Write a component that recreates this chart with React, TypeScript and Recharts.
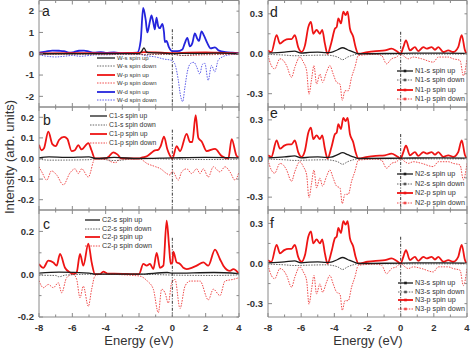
import React from 'react';
import { LineChart, Line, XAxis, YAxis, ReferenceLine } from 'recharts';

type Pt = [number, number];

const W = 474;
const H = 351;
const AX = '#8a8a8a';
const FONT = 'Arial, "Liberation Sans", Helvetica, sans-serif';

const RED = '#ee1414';
const RED_DOT = '#f04a4a';
const BLUE = '#2424dc';
const BLUE_DOT = '#5c5ce8';
const BLACK = '#1c1c1c';
const GRAY_DOT = '#555555';

// energy axis (eV)
const energyTicks = [-8, -7, -6, -5, -4, -3, -2, -1, 0, 1, 2, 3, 4];

// panel a: W
const wsUp: Pt[] = [[-8, 0], [-3, 0.01], [-2, 0.01], [-1.85, 0.1], [-1.7, 0.28], [-1.55, 0.08], [-1.3, 0.05], [-0.5, 0.03], [0, 0.01], [1, 0.02], [2, 0.02], [3, 0.03], [4, 0]];
const wsDown: Pt[] = [[-8, 0], [-2, -0.01], [-1.7, -0.05], [-1, -0.02], [0, -0.02], [0.6, -0.08], [1.5, -0.03], [4, 0]];
const wpUp: Pt[] = [[-8, 0.02], [-6, 0.03], [-4, 0.02], [-2, 0.04], [-1.7, 0.08], [-1, 0.06], [0, 0.03], [1, 0.05], [2, 0.06], [3, 0.04], [4, 0.02]];
const wpDown: Pt[] = [[-8, -0.02], [-4, -0.02], [-2, -0.03], [0, -0.03], [0.6, -0.08], [2, -0.05], [4, -0.02]];
const wdUp: Pt[] = [
  [-8, 0.05], [-7.6, 0.1], [-7.2, 0.15], [-6.8, 0.14], [-6.5, 0.12], [-6.2, 0.05], [-5.9, 0.08], [-5.6, 0.14],
  [-5.3, 0.15], [-5, 0.1], [-4.7, 0.05], [-4.3, 0.08], [-4, 0.04], [-3.5, 0.06], [-3, 0.03], [-2.5, 0.04],
  [-2.1, 0.05], [-1.9, 0.6], [-1.75, 2.15], [-1.6, 1.6], [-1.5, 1.0], [-1.35, 1.5], [-1.25, 1.8], [-1.15, 1.5],
  [-1.05, 1.15], [-0.95, 1.7], [-0.85, 1.3], [-0.75, 1.2], [-0.6, 1.4], [-0.5, 1.0], [-0.45, 0.55], [-0.35, 0.6],
  [-0.2, 0.3], [0, 0.12], [0.3, 0.12], [0.6, 0.2], [0.75, 0.5], [0.9, 0.75], [1.05, 0.35], [1.2, 0.5],
  [1.35, 0.95], [1.5, 0.7], [1.6, 0.6], [1.75, 1.05], [1.9, 0.85], [2.1, 0.5], [2.3, 0.25], [2.55, 0.3],
  [2.8, 0.15], [3.2, 0.08], [3.6, 0.05], [4, 0.03],
];
const wdDown: Pt[] = [
  [-8, -0.05], [-7.5, -0.12], [-7, -0.15], [-6.5, -0.12], [-6, -0.08], [-5.5, -0.12], [-5, -0.08], [-4.5, -0.05],
  [-4, -0.05], [-3, -0.02], [-2, -0.03], [-1.5, -0.1], [-1, -0.15], [-0.5, -0.25], [-0.1, -0.3], [0.05, -0.35],
  [0.2, -0.6], [0.35, -1.2], [0.5, -2.0], [0.62, -2.25], [0.75, -1.6], [0.9, -0.85], [1.1, -0.45], [1.3, -0.4],
  [1.45, -0.6], [1.65, -0.95], [1.8, -0.5], [1.95, -0.45], [2.15, -1.25], [2.35, -0.55], [2.55, -0.85],
  [2.75, -0.3], [3, -0.15], [3.4, -0.05], [4, -0.02],
];

// panel b: C1
const c1sUp: Pt[] = [[-8, 0.003], [-7.4, 0.008], [-6.4, 0.005], [-5, 0.008], [-4.6, 0], [-3.5, 0.005], [-2, 0], [0, 0.003], [2, 0.005], [4, 0.003]];
const c1sDown: Pt[] = [[-8, -0.003], [-7.4, -0.008], [-5, -0.006], [-4.6, 0], [-3.5, -0.01], [-2, 0], [0, -0.003], [2, -0.005], [4, -0.003]];
const c1pUp: Pt[] = [
  [-8, 0.067], [-7.85, 0.04], [-7.7, 0.05], [-7.44, 0.13], [-7.2, 0.07], [-7, 0.06], [-6.8, 0.09], [-6.5, 0.105],
  [-6.3, 0.095], [-6.04, 0.036], [-5.85, 0.04], [-5.64, 0.065], [-5.45, 0.044], [-5.04, 0.075], [-4.85, 0.04],
  [-4.64, 0], [-4, 0], [-3.8, 0.01], [-3.55, 0.03], [-3.3, 0.02], [-3.05, 0], [-2, 0], [-1.8, 0.005],
  [-1.5, 0.012], [-1.25, 0.028], [-1.05, 0.04], [-0.85, 0.042], [-0.7, 0.06], [-0.5, 0.106], [-0.3, 0.045],
  [-0.15, 0.015], [0, 0], [0.26, 0.06], [0.46, 0.035], [0.86, 0.12], [1.06, 0.08], [1.2, 0.08], [1.4, 0.21],
  [1.56, 0.1], [1.76, 0.083], [2.06, 0.036], [2.56, 0.047], [2.96, 0.012], [3.36, 0], [3.56, 0.094],
  [3.86, 0.012], [4, 0.005],
];
const c1pDown: Pt[] = [
  [-8, -0.04], [-7.8, -0.07], [-7.54, -0.105], [-7.25, -0.06], [-6.94, -0.08], [-6.54, -0.128], [-6.14, -0.07],
  [-5.84, -0.05], [-5.64, -0.073], [-5.44, -0.05], [-5.04, -0.09], [-4.64, 0], [-4, 0], [-3.7, -0.015],
  [-3.4, -0.02], [-3.1, 0], [-2, 0], [-1.5, -0.025], [-1, -0.04], [-0.7, -0.05], [-0.34, -0.073], [-0.14, -0.08],
  [0, -0.06], [0.36, -0.105], [0.56, -0.065], [0.86, -0.05], [1.16, -0.073], [1.46, -0.05], [1.66, -0.073],
  [1.86, -0.05], [2.16, -0.09], [2.46, -0.04], [2.86, -0.065], [3.16, -0.04], [3.46, -0.065], [3.76, -0.105],
  [4, -0.065],
];

// panel c: C2
const c2sUp: Pt[] = [[-8, 0.005], [-6.8, 0.01], [-5, 0.005], [-4.6, 0], [-2, 0], [-0.3, 0.008], [0, 0.005], [2.5, 0.008], [4, 0.003]];
const c2sDown: Pt[] = [[-8, -0.005], [-7, -0.006], [-6.8, -0.012], [-6.4, -0.004], [-4.6, 0], [-2, 0], [0, -0.004], [2.5, -0.006], [4, -0.003]];
const c2pUp: Pt[] = [
  [-8, 0.048], [-7.74, 0.03], [-7.44, 0.063], [-7.14, 0.055], [-6.94, 0.04], [-6.74, 0.095], [-6.44, 0.03],
  [-6.14, 0.008], [-5.94, 0], [-5.74, 0.008], [-5.54, 0.095], [-5.34, 0.04], [-5.04, 0.143], [-4.84, 0.055],
  [-4.64, 0], [-4.34, 0], [-4.14, 0.012], [-3.9, 0.003], [-3.5, 0.003], [-2, 0], [-1.74, 0.048], [-1.54, 0.04],
  [-1.34, 0.048], [-1.14, 0.024], [-0.94, 0.1], [-0.74, 0.03], [-0.54, 0.04], [-0.34, 0.25], [-0.2, 0.135],
  [-0.1, 0.048], [0, 0.055], [0.06, 0.105], [0.26, 0.055], [0.46, 0.048], [0.66, 0.03], [0.86, 0.024],
  [1.16, 0.03], [1.46, 0.04], [1.86, 0.055], [2.16, 0.04], [2.56, 0.115], [2.86, 0.07], [3.06, 0.04],
  [3.46, 0.016], [3.66, 0.024], [4, 0.002],
];
const c2pDown: Pt[] = [
  [-8, -0.03], [-7.74, -0.063], [-7.44, -0.048], [-7.14, -0.063], [-6.84, -0.04], [-6.64, -0.087],
  [-6.34, -0.016], [-5.94, 0], [-5.74, -0.024], [-5.54, -0.11], [-5.34, -0.056], [-5.04, -0.15], [-4.84, -0.07],
  [-4.64, -0.008], [-4.3, 0], [-2, -0.008], [-1.5, -0.032], [-1.14, -0.07], [-0.84, -0.18], [-0.64, -0.07],
  [-0.44, -0.087], [-0.24, -0.135], [-0.04, -0.04], [0.16, -0.024], [0.46, -0.16], [0.76, -0.056],
  [1.06, -0.032], [1.66, -0.032], [2.16, -0.12], [2.46, -0.07], [2.86, -0.1], [3.16, -0.032], [3.66, -0.024],
  [4, -0.016],
];

// panels d, e, f: N1, N2, N3 (curves are practically the same)
const nsUp: Pt[] = [[-8, 0.005], [-7, 0.012], [-6.4, 0.02], [-6, 0.005], [-5.5, 0.01], [-5, 0.012], [-4.5, 0.008], [-4.2, 0.01], [-3.8, 0.03], [-3.5, 0.045], [-3.2, 0.03], [-2.8, 0.01], [-2.5, 0], [0, 0.003], [2, 0.005], [4, 0.003]];
const nsDown: Pt[] = [[-8, -0.005], [-7, -0.01], [-6.4, -0.015], [-5.5, -0.012], [-4.5, -0.01], [-3.8, -0.025], [-3.5, -0.045], [-3.2, -0.025], [-2.8, -0.008], [-2.5, 0], [0, -0.003], [4, -0.003]];
const npUp: Pt[] = [
  [-8, 0.025], [-7.8, 0.012], [-7.48, 0.14], [-7.28, 0.076], [-7.02, 0.1], [-6.78, 0.11], [-6.58, 0.11],
  [-6.38, 0.14], [-6.18, 0.05], [-5.98, 0.013], [-5.77, 0.063], [-5.57, 0.2], [-5.41, 0.24], [-5.27, 0.15],
  [-5.07, 0.18], [-4.87, 0.15], [-4.73, 0.18], [-4.57, 0.076], [-4.41, 0], [-4.17, 0.089], [-3.96, 0.19],
  [-3.86, 0.2], [-3.76, 0.266], [-3.6, 0.228], [-3.46, 0.316], [-3.32, 0.29], [-3.2, 0.316], [-3.06, 0.19],
  [-2.86, 0.127], [-2.72, 0.05], [-2.55, 0], [-2, 0.013], [-1.5, 0.02], [-0.95, 0.025], [-0.55, 0.038],
  [-0.25, 0.02], [0, 0], [0.16, 0.05], [0.32, 0.1], [0.56, 0.025], [0.86, 0.05], [1.06, 0.02], [1.37, 0.05],
  [1.57, 0.038], [1.87, 0.05], [2.07, 0.03], [2.27, 0.05], [2.57, 0.013], [2.87, 0.025], [3.17, 0.013],
  [3.47, 0.05], [3.68, 0.14], [3.88, 0.025], [4, 0],
];
const npDown: Pt[] = [
  [-8, -0.013], [-7.8, -0.089], [-7.6, -0.114], [-7.28, -0.038], [-7.08, -0.05], [-6.88, -0.089],
  [-6.58, -0.177], [-6.38, -0.101], [-6.08, -0.025], [-5.87, -0.063], [-5.67, -0.127], [-5.53, -0.304],
  [-5.37, -0.19], [-5.23, -0.089], [-5.07, -0.228], [-4.87, -0.152], [-4.71, -0.215], [-4.47, -0.139],
  [-4.27, -0.089], [-4.07, -0.152], [-3.86, -0.215], [-3.66, -0.228], [-3.52, -0.35], [-3.36, -0.278],
  [-3.16, -0.278], [-2.96, -0.177], [-2.76, -0.101], [-2.55, -0.013], [-1.5, -0.005], [-1.15, -0.013],
  [-0.85, -0.076], [-0.55, -0.038], [-0.25, -0.025], [0, 0], [0.26, -0.025], [0.46, -0.038], [0.76, -0.025],
  [1.27, -0.038], [1.97, -0.063], [2.27, -0.025], [2.87, -0.025], [3.17, -0.038], [3.58, -0.05],
  [3.78, -0.165], [4, -0.038],
];

type Series = { name: string; data: Pt[]; color: string; width: number; dash?: string };

const sUp = (name: string, data: Pt[]): Series => ({ name, data, color: BLACK, width: 1.3 });
const sDown = (name: string, data: Pt[]): Series => ({ name, data, color: GRAY_DOT, width: 0.9, dash: '1.5 1.2' });
const pUp = (name: string, data: Pt[]): Series => ({ name, data, color: RED, width: 1.8 });
const pDown = (name: string, data: Pt[]): Series => ({ name, data, color: RED_DOT, width: 1, dash: '1.5 1.2' });

type PanelDef = {
  letter: string;
  box: { x: number; y: number; w: number; h: number };
  yDomain: [number, number];
  yTicks: number[];
  yLabels: number[];
  digits: number;
  fermiTop: number;
  showX: boolean;
  series: Series[];
  letterPos: [number, number];
  legend: { x: number; y: number; step: number; sample: number; font: number; marker?: boolean };
};

const LEFT = { x: 39, w: 200 };
const RIGHT = { x: 268, w: 199 };

const panels: PanelDef[] = [
  {
    letter: 'a', box: { ...LEFT, y: 0.5, h: 106.5 }, yDomain: [-2.5, 2.5], yTicks: [-2, -1, 0, 1, 2],
    yLabels: [-2, -1, 0, 1, 2], digits: 0, fermiTop: 1.15, showX: false, letterPos: [42, 16],
    series: [
      sUp('W-s spin up', wsUp), sDown('W-s spin down', wsDown), pUp('W-p spin up', wpUp), pDown('W-p spin down', wpDown),
      { name: 'W-d spin up', data: wdUp, color: BLUE, width: 1.8 },
      { name: 'W-d spin down', data: wdDown, color: BLUE_DOT, width: 1, dash: '1.5 1.2' },
    ],
    legend: { x: 97, y: 58, step: 8.4, sample: 18, font: 6 },
  },
  {
    letter: 'b', box: { ...LEFT, y: 107, h: 103 }, yDomain: [-0.25, 0.25], yTicks: [-0.2, -0.1, 0, 0.1, 0.2],
    yLabels: [-0.2, -0.1, 0, 0.1, 0.2], digits: 1, fermiTop: 0.14, showX: false, letterPos: [43, 125],
    series: [sUp('C1-s spin up', c1sUp), sDown('C1-s spin down', c1sDown), pUp('C1-p spin up', c1pUp), pDown('C1-p spin down', c1pDown)],
    legend: { x: 90, y: 116, step: 9, sample: 17, font: 6.8 },
  },
  {
    letter: 'c', box: { ...LEFT, y: 210, h: 107 }, yDomain: [-0.2, 0.3], yTicks: [-0.2, -0.1, 0, 0.1, 0.2],
    yLabels: [-0.2, 0, 0.2], digits: 1, fermiTop: 0.17, showX: true, letterPos: [43, 229],
    series: [sUp('C2-s spin up', c2sUp), sDown('C2-s spin down', c2sDown), pUp('C2-p spin up', c2pUp), pDown('C2-p spin down', c2pDown)],
    legend: { x: 85, y: 220, step: 8.5, sample: 15, font: 7.2 },
  },
  {
    letter: 'd', box: { ...RIGHT, y: 0.5, h: 106.5 }, yDomain: [-0.4, 0.4], yTicks: [-0.3, -0.15, 0, 0.15, 0.3],
    yLabels: [-0.3, 0, 0.3], digits: 1, fermiTop: 0.165, showX: false, letterPos: [270, 17],
    series: [sUp('N1-s spin up', nsUp), sDown('N1-s spin down', nsDown), pUp('N1-p spin up', npUp), pDown('N1-p spin down', npDown)],
    legend: { x: 397, y: 71, step: 9.3, sample: 16, font: 7.2, marker: true },
  },
  {
    letter: 'e', box: { ...RIGHT, y: 107, h: 103 }, yDomain: [-0.4, 0.4], yTicks: [-0.3, -0.15, 0, 0.15, 0.3],
    yLabels: [-0.3, 0, 0.3], digits: 1, fermiTop: 0.19, showX: false, letterPos: [270, 118],
    series: [sUp('N2-s spin up', nsUp), sDown('N2-s spin down', nsDown), pUp('N2-p spin up', npUp), pDown('N2-p spin down', npDown)],
    legend: { x: 397, y: 174, step: 9.6, sample: 16, font: 7.2, marker: true },
  },
  {
    letter: 'f', box: { ...RIGHT, y: 210, h: 107 }, yDomain: [-0.4, 0.4], yTicks: [-0.3, -0.15, 0, 0.15, 0.3],
    yLabels: [-0.3, 0, 0.3], digits: 1, fermiTop: 0.2, showX: true, letterPos: [270, 228],
    series: [sUp('N3-s spin up', nsUp), sDown('N3-s spin down', nsDown), pUp('N3-p spin up', npUp), pDown('N3-p spin down', npDown)],
    legend: { x: 398, y: 283, step: 8.7, sample: 15, font: 7.2, marker: true },
  },
];

function XTick(props: any) {
  const { x, y, payload, dir, labels } = props;
  const v = payload.value;
  const major = v % 2 === 0;
  const len = major ? 4 : 2.5;
  return (
    <g>
      <line x1={x} x2={x} y1={y} y2={y + dir * len} stroke={AX} strokeWidth={1} />
      {labels && major && (
        <text x={x} y={y + 14} textAnchor="middle" fontSize={9.5} fontWeight="bold" fill="#333" fontFamily={FONT}>
          {v}
        </text>
      )}
    </g>
  );
}

function YTick(props: any) {
  const { x, y, payload, dir, labels, digits } = props;
  const v: number = payload.value;
  const shown = !!labels && labels.some((l: number) => Math.abs(l - v) < 1e-9);
  return (
    <g>
      <line x1={x} x2={x + dir * (shown ? 4 : 2.5)} y1={y} y2={y} stroke={AX} strokeWidth={1} />
      {shown && (
        <text x={x - 5} y={y + 3.3} textAnchor="end" fontSize={9.5} fontWeight="bold" fill="#333" fontFamily={FONT}>
          {v.toFixed(digits)}
        </text>
      )}
    </g>
  );
}

// axes take 1px so they are drawn; margins are reduced by that pixel
function Panel({ p }: { p: PanelDef }) {
  const { box } = p;
  const margin = {
    top: box.y - 1,
    left: box.x - 1,
    right: W - box.x - box.w - 1,
    bottom: H - box.y - box.h - 1,
  };
  const drawOrder = [...p.series].reverse();
  return (
    <div style={{ position: 'absolute', left: 0, top: 0 }}>
      <LineChart width={W} height={H} margin={margin}>
        <XAxis xAxisId="b" dataKey="e" type="number" domain={[-8, 4]} allowDataOverflow ticks={energyTicks}
          interval={0} height={1} orientation="bottom" axisLine={{ stroke: AX }} tickLine={false} tickSize={0} tickMargin={0}
          tick={(t: any) => <XTick {...t} dir={-1} labels={p.showX} />} />
        <XAxis xAxisId="t" dataKey="e" type="number" domain={[-8, 4]} allowDataOverflow ticks={energyTicks}
          interval={0} height={1} orientation="top" axisLine={{ stroke: AX }} tickLine={false} tickSize={0} tickMargin={0}
          tick={(t: any) => <XTick {...t} dir={1} labels={false} />} />
        <YAxis yAxisId="l" type="number" domain={p.yDomain} allowDataOverflow ticks={p.yTicks} interval={0}
          width={1} axisLine={{ stroke: AX }} tickLine={false} tickSize={0} tickMargin={0}
          tick={(t: any) => <YTick {...t} dir={1} labels={p.yLabels} digits={p.digits} />} />
        <YAxis yAxisId="r" orientation="right" type="number" domain={p.yDomain} allowDataOverflow ticks={p.yTicks} interval={0}
          width={1} axisLine={{ stroke: AX }} tickLine={false} tickSize={0} tickMargin={0}
          tick={(t: any) => <YTick {...t} dir={-1} labels={null} digits={p.digits} />} />
        <ReferenceLine xAxisId="b" yAxisId="l" segment={[{ x: 0, y: p.fermiTop }, { x: 0, y: p.yDomain[0] }]}
          stroke="#222" strokeWidth={0.9} strokeDasharray="3 1.5 1 1.5" />
        {drawOrder.map((s) => (
          <Line key={s.name} xAxisId="b" yAxisId="l" type="monotone" data={s.data.map(([e, v]) => ({ e, v }))}
            dataKey="v" name={s.name} stroke={s.color} strokeWidth={s.width} strokeDasharray={s.dash}
            dot={false} activeDot={false} isAnimationActive={false} />
        ))}
      </LineChart>
    </div>
  );
}

function PanelLegend({ p }: { p: PanelDef }) {
  const { legend } = p;
  return (
    <>
      {p.series.map((s, i) => (
        <div key={s.name} style={{
          position: 'absolute', left: legend.x, top: legend.y + i * legend.step - 4, height: 8,
          display: 'flex', alignItems: 'center', whiteSpace: 'nowrap',
        }}>
          <svg width={legend.sample} height={8} style={{ display: 'block' }}>
            <line x1={0} x2={legend.sample} y1={4} y2={4} stroke={s.color} strokeWidth={s.width} strokeDasharray={s.dash} />
            {legend.marker && <rect x={legend.sample / 2 - 1.3} y={2.7} width={2.6} height={2.6} fill={s.color} />}
          </svg>
          <span style={{ marginLeft: 2, fontSize: legend.font, lineHeight: '8px', color: '#333', fontFamily: FONT }}>
            {s.name}
          </span>
        </div>
      ))}
    </>
  );
}

export default function App() {
  return (
    <div style={{ position: 'absolute', left: 0, top: 0, width: W, height: H, background: '#fff', overflow: 'hidden' }}>
      {panels.map((p) => (
        <Panel key={p.letter} p={p} />
      ))}
      {panels.map((p) => (
        <PanelLegend key={p.letter + 'lg'} p={p} />
      ))}
      <svg width={W} height={H} style={{ position: 'absolute', left: 0, top: 0, pointerEvents: 'none' }}>
        {panels.map((p) => (
          <text key={p.letter} x={p.letterPos[0]} y={p.letterPos[1]} fontSize={14} fill="#222" fontFamily={FONT}>
            {p.letter}
          </text>
        ))}
        <text x={139} y={345} textAnchor="middle" fontSize={13} fill="#333" fontFamily={FONT}>Energy (eV)</text>
        <text x={368} y={345} textAnchor="middle" fontSize={13} fill="#333" fontFamily={FONT}>Energy (eV)</text>
        <text x={13.5} y={157} textAnchor="middle" fontSize={13} fill="#333" fontFamily={FONT} transform="rotate(-90 13.5 157)">
          Intensity (arb. units)
        </text>
      </svg>
    </div>
  );
}
